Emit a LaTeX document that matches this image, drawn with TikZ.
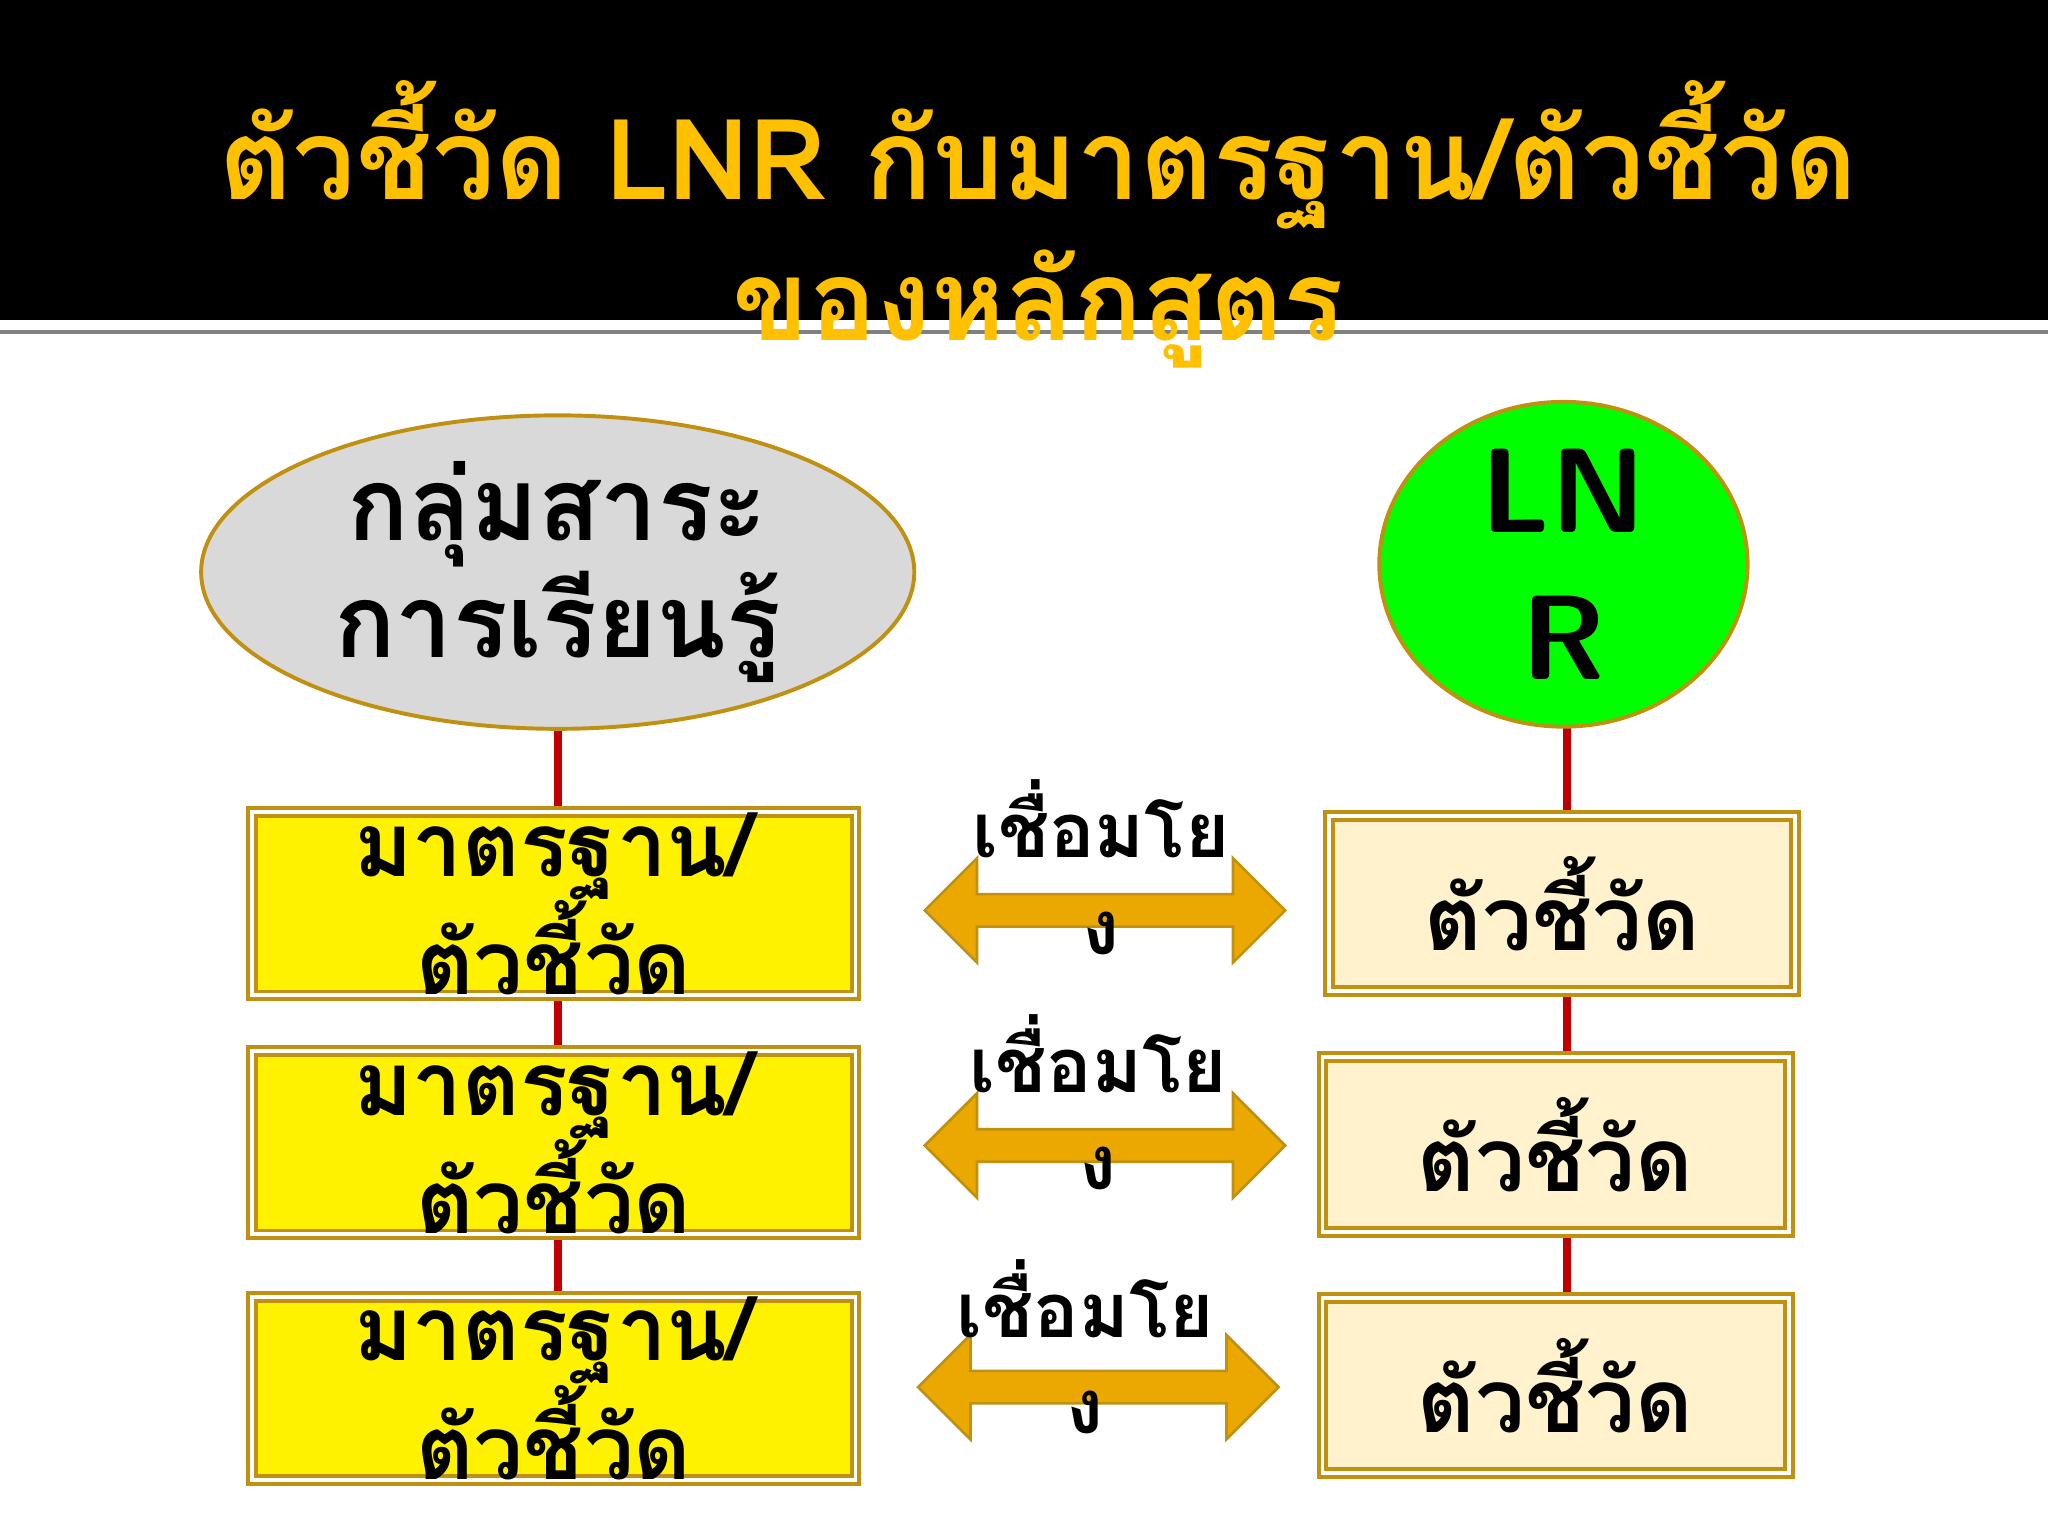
\documentclass[tikz,border=0pt]{standalone}
\usepackage{fontspec}
\newfontfamily\thai[Script=Thai]{Loma}
\usetikzlibrary{shapes.geometric,shapes.arrows}
\definecolor{gold}{HTML}{FFC000}
\definecolor{brd}{HTML}{C09010}
\definecolor{rd}{HTML}{C00000}
\definecolor{cream}{HTML}{FFF2CC}
\definecolor{arr}{HTML}{EAA800}
\tikzset{
 lbox/.style={draw=brd,line width=3pt,double=yellow!0,double distance=3pt,fill=yellow,minimum width=462pt,minimum height=134pt,inner sep=0pt,align=center,font=\thai\bfseries\fontsize{68}{80}\selectfont},
 rbox/.style={lbox,fill=cream,minimum width=357pt},
 darr/.style={double arrow,draw=brd,line width=2pt,fill=arr,minimum height=276pt,minimum width=80pt,double arrow head extend=20pt,inner sep=0pt,text width=1pt,text height=16pt},
 lab/.style={font=\thai\bfseries\fontsize{58}{74}\selectfont,align=center},
 conn/.style={rd,line width=6pt}
}
\begin{document}
\begin{tikzpicture}[x=1pt,y=-1pt]
\useasboundingbox (0,0) rectangle (1568,1176);
\fill[white] (0,0) rectangle (1568,1176);
\fill[black] (0,0) rectangle (1568,245);
\draw[gray,line width=3pt] (0,254) -- (1568,254);
\node[text=gold,font=\thai\bfseries\fontsize{86}{108}\selectfont,align=center] (title) at (795,172) {ตัวชี้วัด LNR กับมาตรฐาน/ตัวชี้วัด\\ของหลักสูตร};
\coordinate (lt) at (427,550); \coordinate (lb) at (427,995);
\coordinate (rt) at (1200,550); \coordinate (rb) at (1200,990);
\draw[conn] (lt) -- (lb);
\draw[conn] (rt) -- (rb);
\node[ellipse,draw=brd,line width=3pt,fill=gray!30,minimum width=546pt,minimum height=236pt,inner sep=0pt,font=\thai\bfseries\fontsize{78}{90}\selectfont,align=center] (grp) at (427,438) {กลุ่มสาระ\\การเรียนรู้};
\node[ellipse,draw=brd,line width=3pt,fill=green,minimum width=282pt,minimum height=236pt,inner sep=0pt,font=\sffamily\bfseries\fontsize{92}{112}\selectfont,align=center] (lnr) at (1197,432) {LN\\R};
\node[lbox] (l1) at (424,692) {มาตรฐาน/\\ตัวชี้วัด};
\node[lbox] (l2) at (424,875) {มาตรฐาน/\\ตัวชี้วัด};
\node[lbox] (l3) at (424,1063) {มาตรฐาน/\\ตัวชี้วัด};
\node[rbox] (r1) at (1196,692) {ตัวชี้วัด};
\node[rbox] (r2) at (1191,876) {ตัวชี้วัด};
\node[rbox] (r3) at (1191,1061) {ตัวชี้วัด};
\node[darr] (a1) at (846,697) {};
\node[darr] (a2) at (846,877) {};
\node[darr] (a3) at (841,1062) {};
\node[lab] (t1) at (843,664) {เชื่อมโย\\ง};
\node[lab] (t2) at (841,844) {เชื่อมโย\\ง};
\node[lab] (t3) at (831,1031) {เชื่อมโย\\ง};
\end{tikzpicture}
\end{document}
